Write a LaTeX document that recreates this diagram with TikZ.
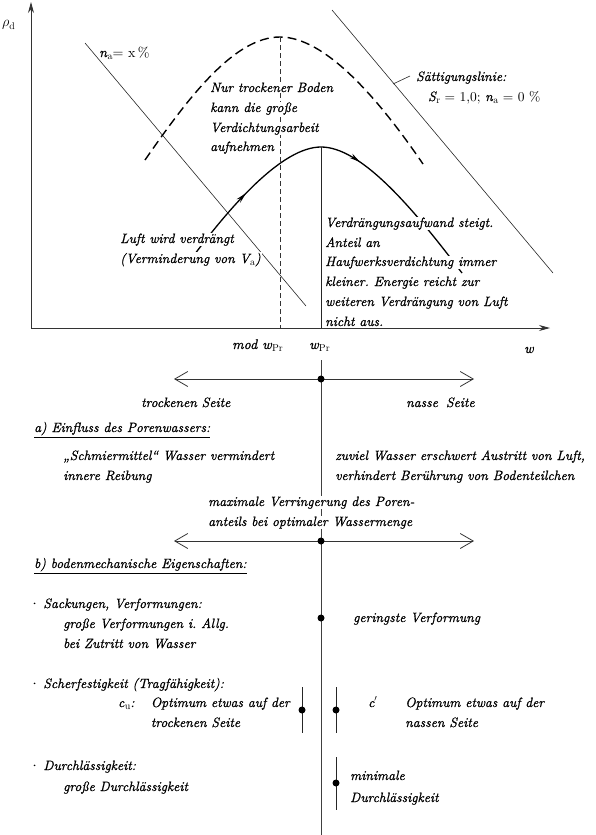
\documentclass[tikz,border=0pt]{standalone}
\usepackage{fontspec}
\setmainfont{lmroman10-regular.otf}[ItalicFont=lmroman10-italic.otf, ItalicFeatures={FakeBold=0.8}]
\usetikzlibrary{arrows.meta,decorations.markings}
\newcommand{\sbs}[1]{\kern0.5pt\raisebox{-0.45ex}{\fontsize{10}{10}\selectfont\upshape #1}}
\frenchspacing
\begin{document}
\begin{tikzpicture}[x=1pt,y=-1pt,
  txt/.style={font=\fontsize{13.5}{20}\selectfont\itshape\frenchspacing, inner xsep=1pt, inner ysep=0.5pt, anchor=base west, fill=white},
  lbl/.style={font=\fontsize{14}{20}\selectfont\itshape, inner sep=0pt, anchor=base west},
  fineline/.style={draw=black!85, line width=0.6pt},
  axisline/.style={draw=black!80, line width=0.8pt, -{Stealth[length=11pt,width=6pt]}},
  dashcurve/.style={draw=black, line width=1.4pt, dash pattern=on 9pt off 5pt},
  dashvert/.style={draw=black!80, line width=0.6pt, dash pattern=on 5pt off 3pt},
  maincurve/.style={draw=black, line width=1.3pt, postaction={decorate},
    decoration={markings,
      mark=at position 0.25 with {\arrow{Stealth[length=11pt,width=5pt]}},
      mark=at position 0.60 with {\arrow{Stealth[length=11pt,width=5pt]}}}},
  harrow/.style={draw=black!80, line width=0.8pt, {Straight Barb[length=13pt,width=15pt]}-{Straight Barb[length=13pt,width=15pt]}},
  vline/.style={draw=black!75, line width=1pt},
  mark line/.style={draw=black!85, line width=0.7pt},
  dot/.style={circle, fill=black, inner sep=0pt, minimum size=7pt}
]
\useasboundingbox (0,0) rectangle (595,835);

% ---------- axes ----------
\coordinate (O) at (31,328);
\coordinate (Ytop) at (31,2);
\coordinate (Xend) at (550,328);
\draw[axisline] (O) -- (Ytop);
\draw[axisline] (O) -- (Xend);

% ---------- straight lines ----------
\coordinate (na1) at (85,43);
\coordinate (na2) at (306,306);
\draw[fineline] (na1) -- (na2);
\coordinate (sat1) at (332,10);
\coordinate (sat2) at (553,273);
\draw[fineline] (sat1) -- (sat2);
\coordinate (lead1) at (393,84);
\coordinate (lead2) at (410,76);
\draw[fineline] (lead1) -- (lead2);

% ---------- dashed curve and vertical ----------
\coordinate (dc0) at (145,160);
\coordinate (dcp) at (280,37);
\coordinate (dc1) at (423,164);
\draw[dashcurve] (dc0) .. controls (190,95) and (235,37) .. (dcp)
                       .. controls (325,37) and (378,98) .. (dc1);
\coordinate (dvb) at (280,328);
\draw[dashvert] (dcp) -- (dvb);

% ---------- compaction curve ----------
\coordinate (mc0) at (186,266);
\coordinate (mcp) at (321,147);
\coordinate (mc1) at (462,273);
\draw[maincurve] (mc0) .. controls (232,203) and (283,147) .. (mcp)
                       .. controls (360,147) and (410,204) .. (mc1);
\coordinate (mcb) at (321,328);
\draw[fineline] (mcp) -- (mcb);

% ---------- plot texts ----------
\node[lbl] (rho) at (2,27) {$\rho_{\mathrm{d}}$};
\node[lbl] (nalab) at (99,57) {n\sbs{a}\upshape= x\,\%};
\node[txt] (nur1) at (209,92) {Nur trockener Boden};
\node[txt] (nur2) at (209,112) {kann die große};
\node[txt] (nur3) at (209,132) {Verdichtungsarbeit};
\node[txt] (nur4) at (209,151) {aufnehmen};
\node[txt] (sattxt) at (415,81) {Sättigungslinie:};
\node[txt] (sateq) at (427,101) {S\sbs{r}\upshape\ = 1,0; \itshape n\sbs{a}\upshape\ = 0 \%};
\node[txt] (luft1) at (119,243) {Luft wird verdrängt};
\node[txt] (luft2) at (119,263) {(Verminderung von V\sbs{a})};
\node[txt] (ver1) at (324,227) {Verdrängungsaufwand steigt.};
\node[txt] (ver2) at (324,247) {Anteil an};
\node[txt] (ver3) at (324,266) {Haufwerksverdichtung immer};
\node[txt] (ver4) at (324,286) {kleiner. Energie reicht zur};
\node[txt] (ver5) at (324,306) {weiteren Verdrängung von Luft};
\node[txt] (ver6) at (324,326) {nicht aus.};
\node[lbl] (modw) at (232,349) {mod w\sbs{Pr}};
\node[lbl] (wpr) at (309,349) {w\sbs{Pr}};
\node[lbl] (w) at (524,353) {w};

% ---------- lower part: main vertical ----------
\coordinate (vtop) at (321,360);
\coordinate (vbot) at (321,835);
\draw[vline] (vtop) -- (vbot);

% arrow 1
\coordinate (a1l) at (174,379);
\coordinate (a1r) at (474,379);
\draw[harrow] (a1l) -- (a1r);
\node[dot] (d1) at (321,379) {};
\node[txt] (trs) at (140,407) {trockenen Seite};
\node[txt] (nas) at (405,407) {nasse\hspace{0.6em}Seite};

\node[txt] (ahead) at (33,432) {\underline{a) Einfluss des Porenwassers:}};
\node[txt] (schm1) at (62,460) {„Schmiermittel“ Wasser vermindert};
\node[txt] (schm2) at (62,480) {innere Reibung};
\node[txt] (zuv1) at (334,460) {zuviel Wasser erschwert Austritt von Luft,};
\node[txt] (zuv2) at (334,480) {verhindert Berührung von Bodenteilchen};

\node[txt] (max1) at (207,506) {maximale Verringerung des Poren-};
\node[txt] (max2) at (207,526) {anteils bei optimaler Wassermenge};
\coordinate (a2l) at (174,541);
\coordinate (a2r) at (474,541);
\draw[harrow] (a2l) -- (a2r);
\node[dot] (d2) at (321,541) {};

\node[txt] (bhead) at (33,568) {\underline{b) bodenmechanische Eigenschaften:}};

\node[txt] (sack) at (27,608) {· Sackungen, Verformungen:};
\node[txt] (sack2) at (62,628) {große Verformungen i. Allg.};
\node[txt] (sack3) at (62,648) {bei Zutritt von Wasser};
\node[dot] (d3) at (321,618) {};
\node[txt] (ger) at (352,622) {geringste Verformung};

\node[txt] (scher) at (27,688) {· Scherfestigkeit (Tragfähigkeit):};
\node[txt, anchor=base east] (opt1) at (291,707) {Optimum etwas auf der};
\node[txt] (opt2) at (opt1.base west |- 0,727) {trockenen Seite};
\node[txt, anchor=base east] (cu) at ([xshift=-14pt]opt1.base west) {c\sbs{u}:};
\coordinate (m1t) at (302,687);
\coordinate (m1b) at (302,733);
\draw[mark line] (m1t) -- (m1b);
\node[dot] (d4) at (302,710) {};
\coordinate (m2t) at (336,687);
\coordinate (m2b) at (336,733);
\draw[mark line] (m2t) -- (m2b);
\node[dot] (d5) at (336,710) {};
\node[txt] (cp) at (367,707) {c$'$};
\node[txt] (opt3) at (404,707) {Optimum etwas auf der};
\node[txt] (opt4) at (404,727) {nassen Seite};

\node[txt] (durch) at (27,770) {· Durchlässigkeit:};
\node[txt] (durch2) at (62,791) {große Durchlässigkeit};
\coordinate (m3t) at (336,757);
\coordinate (m3b) at (336,810);
\draw[mark line] (m3t) -- (m3b);
\node[dot] (d6) at (336,783) {};
\node[txt] (min1) at (349,780) {minimale};
\node[txt] (min2) at (349,802) {Durchlässigkeit};
\end{tikzpicture}
\end{document}
